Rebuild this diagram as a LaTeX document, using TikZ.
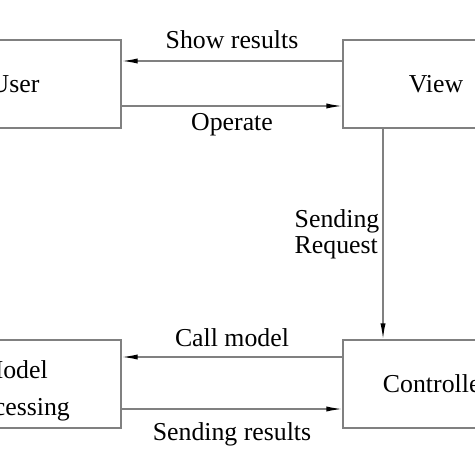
\documentclass[tikz,border=0pt]{standalone}
\usepackage{fontspec}
\setmainfont{Liberation Serif}
\usetikzlibrary{arrows.meta}

\begin{document}
\begin{tikzpicture}[x=0.5pt,y=-0.5pt,
    font=\fontsize{12.9}{13}\selectfont,
    box/.style={draw=black!50, line width=0.7pt, minimum height=44pt, inner sep=0pt},
    flow/.style={draw=black!50, line width=0.7pt, -{Latex[length=8pt,width=2.6pt,black]}}]
    \useasboundingbox (0,0) rectangle (474,474);

    % the four blocks
    \node[box, minimum width=106pt] (user) at (15,84) {User};
    \node[box, minimum width=93pt] (view) at (436,84) {\raisebox{-1.5pt}{View}};
    \node[box, minimum width=106pt,
        label={[align=center,yshift=-3.5pt,xshift=-0.5pt]center:Model\\[5.5pt]Processing}] (model) at (15,384) {};
    \node[box, minimum width=93pt] (ctrl) at (436,384) {\raisebox{-1.5pt}{Controller}};

    \draw[flow] ([yshift=11.5pt]view.west) -- ([yshift=11.5pt]user.east) node[midway,above=2.5pt] {Show results};
    \draw[flow] ([yshift=-11pt]user.east) -- ([yshift=-11pt]view.west) node[midway,below] {Operate};

    \draw[flow] ([xshift=-26.5pt]view.south) -- ([xshift=-26.5pt]ctrl.north) node[midway,left,inner sep=1.5pt,align=left] {Sending\\Request};

    \draw[flow] ([yshift=13.5pt]ctrl.west) -- ([yshift=13.5pt]model.east) node[midway,above=1.5pt] {Call model};
    \draw[flow] ([yshift=-12.5pt]model.east) -- ([yshift=-12.5pt]ctrl.west) node[midway,below=3pt] {Sending results};

\end{tikzpicture}
\end{document}
